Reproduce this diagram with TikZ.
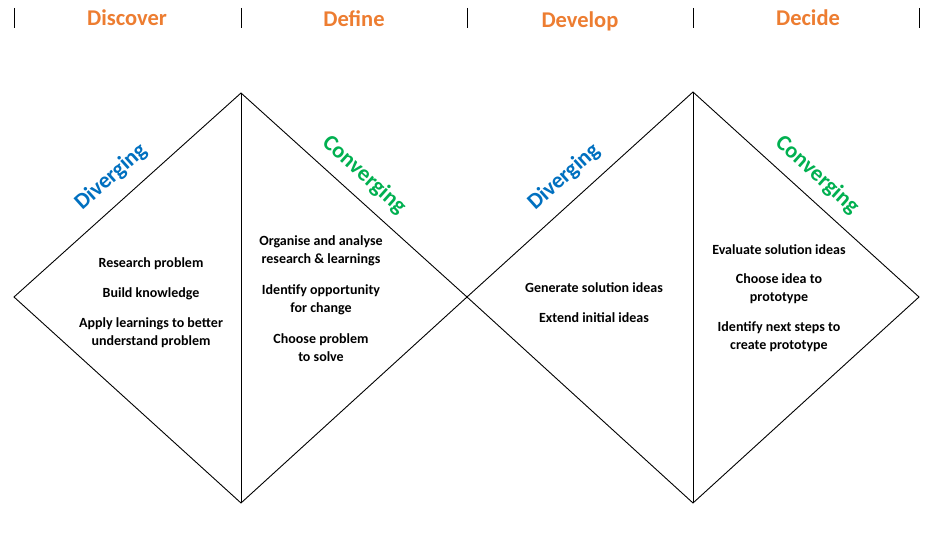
\documentclass[tikz,border=0pt]{standalone}
\usepackage{fontspec}
\setmainfont{Carlito}
\definecolor{orng}{HTML}{ED7D31}
\definecolor{blu}{HTML}{0070C0}
\definecolor{grn}{HTML}{00B050}
\begin{document}
\begin{tikzpicture}[x=1pt,y=-1pt,
  head/.style={text=orng,font=\bfseries\fontsize{22.5}{25}\selectfont},
  dia/.style={font=\bfseries\fontsize{22.5}{25}\selectfont},
  body/.style={font=\bfseries\fontsize{14}{18}\selectfont,align=center},
  ln/.style={line width=0.9pt}]
\useasboundingbox (0,0) rectangle (930,551);
\fill[white] (0,0) rectangle (930,551);
% tick marks
\foreach \x in {14,241,467,693,919}
  \draw[ln] (\x,8) -- (\x,28);
\node[head] (h1) at (127,18) {Discover};
\node[head] (h2) at (354,19) {Define};
\node[head] (h3) at (580,21) {Develop};
\node[head] (h4) at (808,18) {Decide};
% diamonds
\coordinate (l1) at (14,297); \coordinate (t1) at (241,93);
\coordinate (b1) at (241,503); \coordinate (m) at (467,297);
\coordinate (t2) at (693,92); \coordinate (b2) at (693,503);
\coordinate (r2) at (919,297);
\draw[ln] (l1) -- (t1) -- (m) -- (b1) -- cycle;
\draw[ln] (t1) -- (b1);
\draw[ln] (m) -- (t2) -- (r2) -- (b2) -- cycle;
\draw[ln] (t2) -- (b2);
% rotated labels
\node[dia,text=blu,rotate=42] (d1) at (111,177) {Diverging};
\node[dia,text=grn,rotate=-42] (c1) at (364,175) {Converging};
\node[dia,text=blu,rotate=42] (d2) at (564,177) {Diverging};
\node[dia,text=grn,rotate=-42] (c2) at (817,175) {Converging};
% body text
\node[body] (a1) at (151,264) {Research problem};
\node[body] (a2) at (151,294) {Build knowledge};
\node[body] (a3) at (151,333) {Apply learnings to better\\understand problem};
\node[body] (b1t) at (321,251) {Organise and analyse\\research \& learnings};
\node[body] (b2t) at (321,300) {Identify opportunity\\for change};
\node[body] (b3t) at (321,348) {Choose problem\\to solve};
\node[body] (e1) at (594,288) {Generate solution ideas};
\node[body] (e2) at (594,318) {Extend initial ideas};
\node[body] (f1) at (779,250) {Evaluate solution ideas};
\node[body] (f2) at (779,289) {Choose idea to\\prototype};
\node[body] (f3) at (779,337) {Identify next steps to\\create prototype};
\end{tikzpicture}
\end{document}
